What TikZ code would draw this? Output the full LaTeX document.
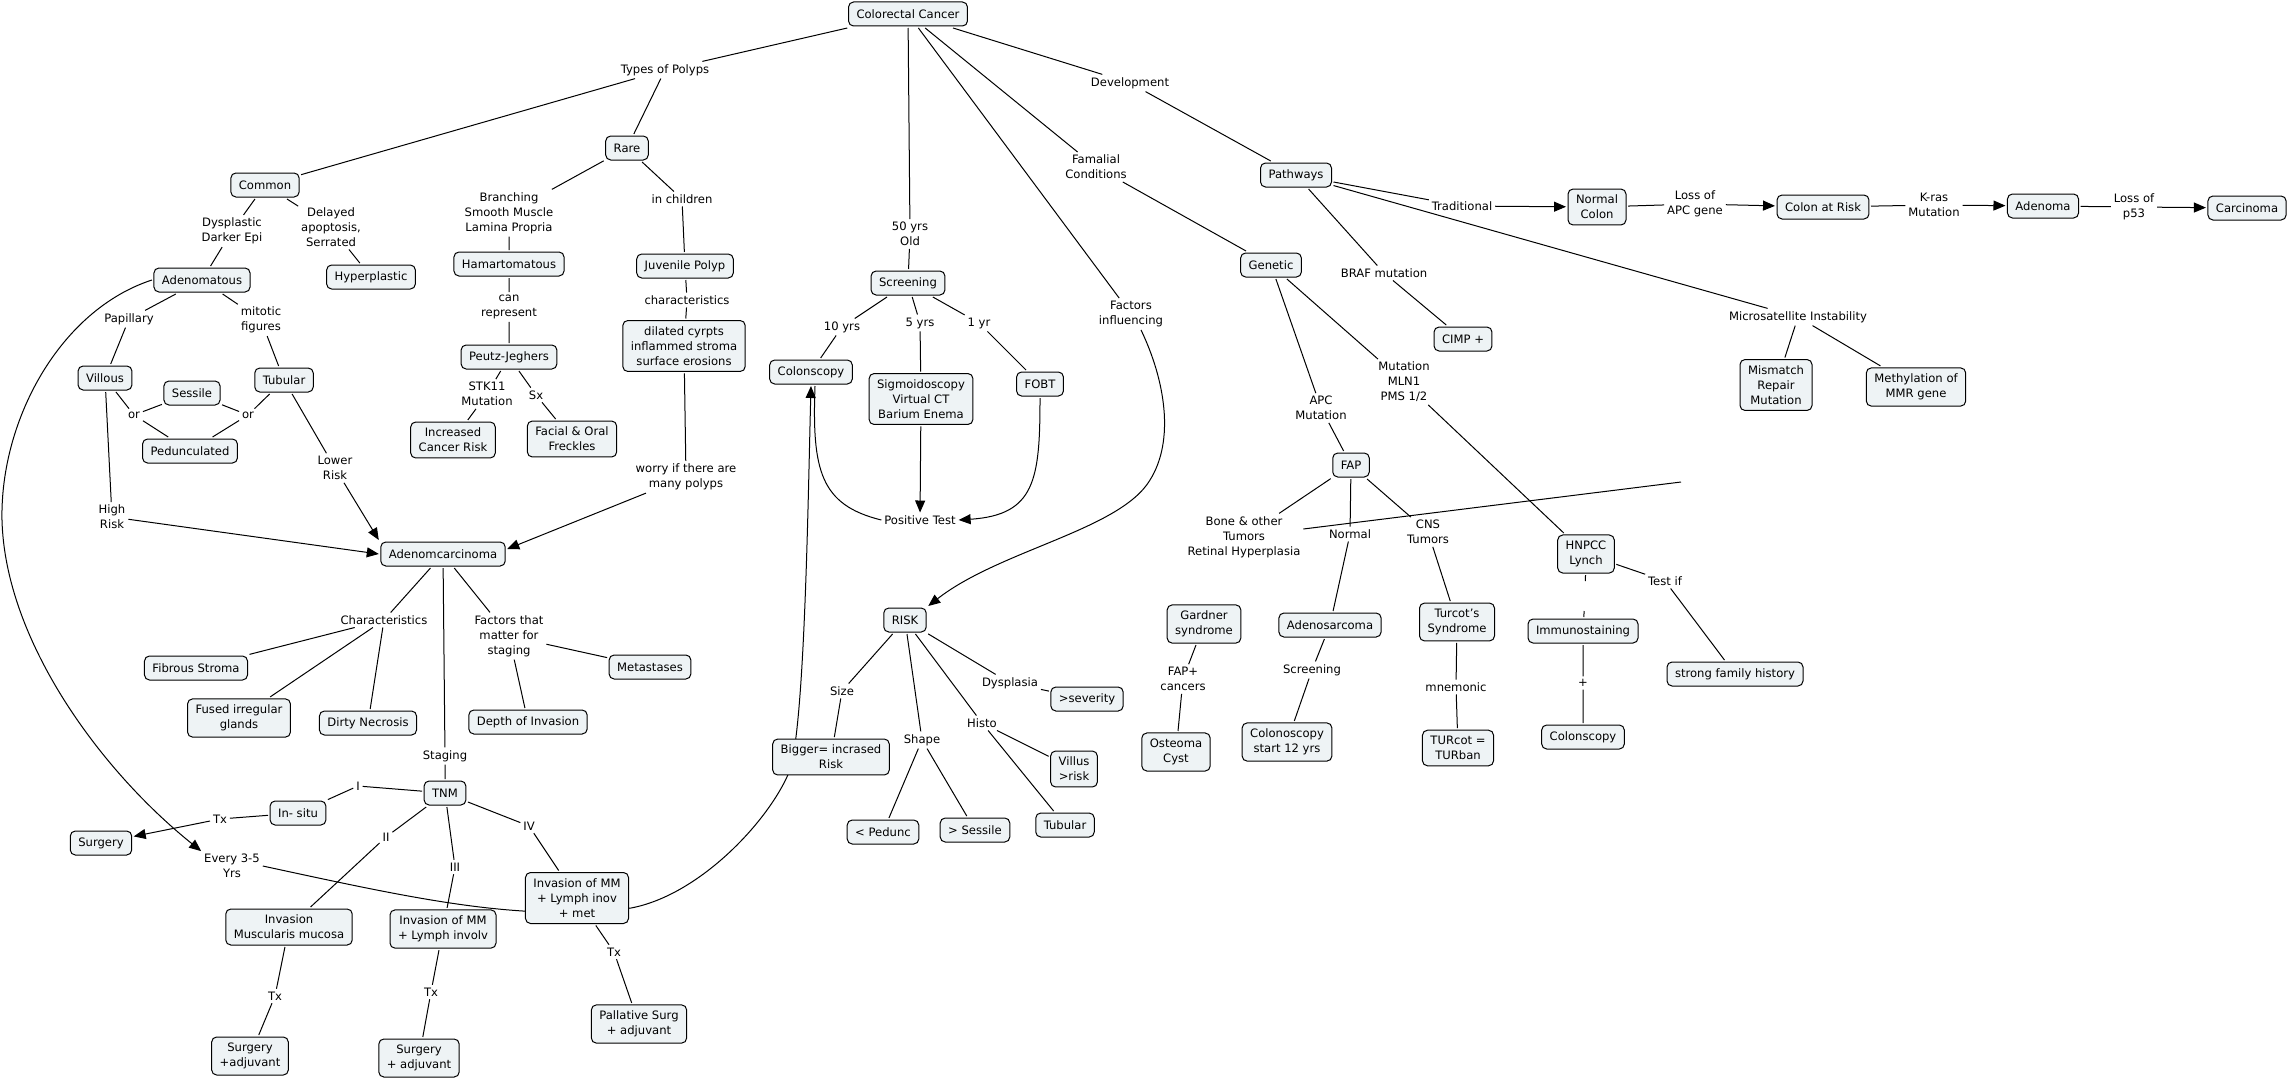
\documentclass[tikz,border=0pt]{standalone}
\usepackage{fontspec}
\setmainfont{DejaVu Sans}
\usetikzlibrary{arrows.meta,backgrounds}
\definecolor{cfill}{HTML}{EEF3F5}

\begin{document}
\begin{tikzpicture}[x=1pt,y=-1pt,line width=1pt,
  every node/.style={font=\fontsize{11.6}{15}\selectfont,align=center},
  concept/.style={draw,fill=cfill,rounded corners=5pt,inner xsep=8pt,inner ysep=6pt,minimum height=24pt,outer sep=2pt},
  phrase/.style={fill=white,inner sep=2pt,outer sep=1pt},
  arr/.style={-{Triangle[length=12pt,width=10pt]}}]
\useasboundingbox (0,0) rectangle (2290,1081);

% polyps
\node[concept] (cc) at (908,14) {Colorectal Cancer};
\node[phrase] (tpoly) at (665,70) {Types of Polyps};
\node[concept] (common) at (265,185) {Common};
\node[concept] (rare) at (627,148) {Rare};
\node[phrase] (dysp) at (232,231) {Dysplastic\\Darker Epi};
\node[phrase] (delay) at (331,227) {Delayed\\apoptosis,\\Serrated};
\node[concept] (hyper) at (371,277) {Hyperplastic};
\node[concept] (adenom) at (202,280) {Adenomatous};
\node[phrase] (papil) at (129,319) {Papillary};
\node[phrase] (mitot) at (261,320) {mitotic\\figures};
\node[concept] (villous) at (105,378) {Villous};
\node[concept] (sessile) at (192,393) {Sessile};
\node[concept] (tubular) at (284,380) {Tubular};
\node[phrase] (orl) at (134,415) {or};
\node[phrase] (orr) at (248,415) {or};
\node[concept] (pedunc) at (190,451) {Pedunculated};
\node[phrase] (lowrisk) at (335,468) {Lower\\Risk};
\node[phrase] (highrisk) at (112,517) {High\\Risk};
\node[phrase] (branch) at (509,213) {Branching\\Smooth Muscle\\Lamina Propria};
\node[concept] (hamart) at (509,264) {Hamartomatous};
\node[phrase] (canrep) at (509,307) {can\\represent};
\node[concept] (peutz) at (509,357) {Peutz-Jeghers};
\node[phrase] (stk) at (487,394) {STK11\\Mutation};
\node[phrase] (sx) at (536,395) {Sx};
\node[concept] (incrisk) at (453,440) {Increased\\Cancer Risk};
\node[concept] (freckles) at (572,439) {Facial \& Oral\\Freckles};
\node[phrase] (inchild) at (682,199) {in children};
\node[concept] (juvpol) at (685,266) {Juvenile Polyp};
\node[phrase] (charjuv) at (687,300) {characteristics};
\node[concept] (dilated) at (684,346) {dilated cyrpts\\inflammed stroma\\surface erosions};
\node[phrase] (worry) at (686,477) {worry if there are\\many polyps};

% adenocarcinoma and staging
\node[concept] (adcarc) at (443,554) {Adenomcarcinoma};
\node[phrase] (charac) at (384,620) {Characteristics};
\node[phrase] (factors) at (509,636) {Factors that\\matter for\\staging};
\node[concept] (fibrous) at (196,668) {Fibrous Stroma};
\node[concept] (metast) at (650,667) {Metastases};
\node[concept] (fused) at (239,718) {Fused irregular\\glands};
\node[concept] (dirty) at (368,723) {Dirty Necrosis};
\node[concept] (depth) at (528,722) {Depth of Invasion};
\node[phrase] (staging) at (445,756) {Staging};
\node[concept] (tnm) at (445,793) {TNM};
\node[phrase] (stI) at (358,786) {I};
\node[concept] (insitu) at (298,813) {In- situ};
\node[phrase] (txs) at (220,819) {Tx};
\node[concept] (surgery) at (101,843) {Surgery};
\node[phrase] (every35) at (232,866) {Every 3-5\\Yrs};
\node[phrase] (stII) at (386,837) {II};
\node[phrase] (stIII) at (455,867) {III};
\node[phrase] (stIV) at (529,826) {IV};
\node[concept] (invmm) at (289,927) {Invasion\\Muscularis mucosa};
\node[concept] (invlym) at (443,929) {Invasion of MM\\+ Lymph involv};
\node[concept] (invmet) at (577,898) {Invasion of MM\\+ Lymph inov\\+ met};
\node[phrase] (txII) at (275,996) {Tx};
\node[phrase] (txIII) at (431,992) {Tx};
\node[phrase] (txIV) at (614,952) {Tx};
\node[concept] (surgadj) at (250,1056) {Surgery\\+adjuvant};
\node[concept] (surgadjb) at (419,1058) {Surgery\\+ adjuvant};
\node[concept] (pallat) at (639,1024) {Pallative Surg\\+ adjuvant};

% screening and risk
\node[phrase] (fifty) at (910,234) {50 yrs\\Old};
\node[concept] (screen) at (908,283) {Screening};
\node[phrase] (tenyr) at (842,327) {10 yrs};
\node[phrase] (fiveyr) at (920,323) {5 yrs};
\node[phrase] (oneyr) at (979,323) {1 yr};
\node[concept] (colon1) at (811,372) {Colonscopy};
\node[concept] (sigmo) at (921,399) {Sigmoidoscopy\\Virtual CT\\Barium Enema};
\node[concept] (fobt) at (1040,384) {FOBT};
\node[phrase] (postest) at (920,520) {Positive Test};
\node[phrase] (factinf) at (1131,314) {Factors\\influencing};
\node[concept] (risk) at (905,620) {RISK};
\node[phrase] (size) at (842,691) {Size};
\node[concept] (bigger) at (831,757) {Bigger= incrased\\Risk};
\node[phrase] (shape) at (922,740) {Shape};
\node[phrase] (histo) at (982,723) {Histo};
\node[phrase] (dysplas) at (1010,683) {Dysplasia};
\node[concept] (severity) at (1087,699) {>severity};
\node[concept] (villus) at (1074,769) {Villus\\>risk};
\node[concept] (tubular2) at (1065,825) {Tubular};
\node[concept] (lpedunc) at (883,832) {< Pedunc};
\node[concept] (gsessile) at (975,830) {> Sessile};

% genetics and development
\node[phrase] (famal) at (1096,167) {Famalial\\Conditions};
\node[phrase] (develop) at (1130,83) {Development};
\node[concept] (pathways) at (1296,175) {Pathways};
\node[concept] (genetic) at (1271,265) {Genetic};
\node[phrase] (braf) at (1384,273) {BRAF mutation};
\node[concept] (cimp) at (1463,339) {CIMP +};
\node[phrase] (apcmut) at (1321,408) {APC\\Mutation};
\node[phrase] (mlnmut) at (1404,382) {Mutation\\MLN1\\PMS 1/2};
\node[concept] (fap) at (1351,465) {FAP};
\node[phrase] (bone) at (1244,537) {Bone \& other\\Tumors\\Retinal Hyperplasia};
\node[phrase] (normal) at (1350,534) {Normal};
\node[phrase] (cns) at (1428,532) {CNS\\Tumors};
\node[concept] (hnpcc) at (1586,554) {HNPCC\\Lynch};
\node[phrase] (testif) at (1665,581) {Test if};
\node[concept] (gardner) at (1204,624) {Gardner\\syndrome};
\node[phrase] (fapcanc) at (1183,679) {FAP+\\cancers};
\node[concept] (osteoma) at (1176,752) {Osteoma\\Cyst};
\node[concept] (adsarc) at (1330,625) {Adenosarcoma};
\node[phrase] (screen2) at (1312,670) {Screening};
\node[concept] (colon12) at (1287,742) {Colonoscopy\\start 12 yrs};
\node[concept] (turcot) at (1457,622) {Turcot's\\Syndrome};
\node[phrase] (mnem) at (1456,687) {mnemonic};
\node[concept] (turban) at (1458,748) {TURcot =\\TURban};
\node[phrase,minimum height=28pt] (blank) at (1585,596) {};
\node[concept] (immuno) at (1583,631) {Immunostaining};
\node[phrase] (plus) at (1583,683) {+};
\node[concept] (colon2) at (1583,737) {Colonscopy};
\node[concept] (family) at (1735,674) {strong family history};
\node[phrase] (tradit) at (1462,206) {Traditional};
\node[concept] (normcol) at (1597,207) {Normal\\Colon};
\node[phrase] (lossapc) at (1695,204) {Loss of\\APC gene};
\node[concept] (colrisk) at (1823,207) {Colon at Risk};
\node[phrase] (kras) at (1934,205) {K-ras\\Mutation};
\node[concept] (adenoma) at (2043,206) {Adenoma};
\node[phrase] (lossp) at (2134,207) {Loss of\\p53};
\node[concept] (carcin) at (2247,208) {Carcinoma};
\node[phrase] (micro) at (1798,317) {Microsatellite Instability};
\node[concept] (mismatch) at (1776,385) {Mismatch\\Repair\\Mutation};
\node[concept] (methyl) at (1916,387) {Methylation of\\MMR gene};
\coordinate (loose) at (1681,482);

% links
\draw (cc) -- (tpoly) (tpoly) -- (common) (tpoly) -- (rare);
\draw (common) -- (dysp) (dysp) -- (adenom) (common) -- (delay) (delay) -- (hyper);
\draw (adenom) -- (papil) (papil) -- (villous) (adenom) -- (mitot) (mitot) -- (tubular);
\draw (villous) -- (orl) (orl) -- (sessile) (orl) -- (pedunc);
\draw (tubular) -- (orr) (orr) -- (sessile) (orr) -- (pedunc);
\draw (tubular) -- (lowrisk) (villous) -- (highrisk);
\draw[arr] (lowrisk) -- (adcarc.north west);
\draw[arr] (highrisk) -- (adcarc.west);
\draw (rare) -- (branch) (branch) -- (hamart) (hamart) -- (canrep) (canrep) -- (peutz);
\draw (peutz) -- (stk) (stk) -- (incrisk) (peutz) -- (sx) (sx) -- (freckles);
\draw (rare) -- (inchild) (inchild) -- (juvpol) (juvpol) -- (charjuv) (charjuv) -- (dilated) (dilated) -- (worry);
\draw[arr] (worry) -- ([yshift=5pt]adcarc.east);

\draw (adcarc) -- (charac) (charac) -- (fibrous) (charac) -- (fused) (charac) -- (dirty);
\draw (adcarc) -- (factors) (factors) -- (metast) (factors) -- (depth);
\draw (adcarc) -- (staging) (staging) -- (tnm);
\draw (tnm) -- (stI) (stI) -- (insitu) (insitu) -- (txs);
\draw[arr] (txs) -- (surgery);
\draw (tnm) -- (stII) (stII) -- (invmm) (tnm) -- (stIII) (stIII) -- (invlym) (tnm) -- (stIV) (stIV) -- (invmet);
\draw (invmm) -- (txII) (txII) -- (surgadj) (invlym) -- (txIII) (txIII) -- (surgadjb) (invmet) -- (txIV) (txIV) -- (pallat);
\draw[arr] (adenom.west) .. controls (60,310) and (0,420) .. (2,520)
  .. controls (5,640) and (100,770) .. (every35.north west);
% runs behind the boxes
\begin{scope}[on background layer]
\draw[arr,line width=1pt,black] (every35.east) .. controls (420,900) and (520,922) .. (631,908)
  .. controls (700,895) and (770,820) .. (790,770)
  .. controls (805,720) and (808,500) .. (colon1.south);
\end{scope}

\draw (cc) -- (fifty) (fifty) -- (screen);
\draw (screen) -- (tenyr) (tenyr) -- (colon1) (screen) -- (fiveyr) (fiveyr) -- (sigmo) (screen) -- (oneyr) (oneyr) -- (fobt);
\draw[arr] (sigmo) -- (postest);
\draw (postest.west) .. controls (820,505) and (812,470) .. ([xshift=4pt]colon1.south);
\draw[arr] (fobt.south) .. controls (1040,480) and (1035,515) .. (postest.east);
\draw (cc) -- (factinf);
\draw[arr] ([xshift=10pt]factinf.south) .. controls (1165,380) and (1175,440) .. (1150,480)
  .. controls (1120,530) and (1000,550) .. (risk.north east);
\draw (risk) -- (size) (size) -- (bigger);
\draw (risk) -- (shape) (shape) -- (lpedunc) (shape) -- (gsessile);
\draw (risk) -- (histo) (histo) -- (villus) (histo) -- (tubular2);
\draw (risk) -- (dysplas) (dysplas) -- (severity);

\draw (cc) -- (famal) (famal) -- (genetic) (cc) -- (develop) (develop) -- (pathways);
\draw (genetic) -- (apcmut) (apcmut) -- (fap) (genetic) -- (mlnmut) (mlnmut) -- (hnpcc);
\draw (fap) -- (bone) ([yshift=8pt]bone.east) -- (loose);
\draw (fap) -- (normal) (normal) -- (adsarc) (adsarc) -- (screen2) (screen2) -- (colon12);
\draw (fap) -- (cns) (cns) -- (turcot) (turcot) -- (mnem) (mnem) -- (turban);
\draw (gardner) -- (fapcanc) (fapcanc) -- (osteoma);
\draw (hnpcc) -- (testif) (testif) -- (family);
\draw (hnpcc) -- (blank) (blank) -- (immuno) (immuno) -- (plus) (plus) -- (colon2);
\draw (pathways) -- (braf) (braf) -- (cimp);
\draw (pathways) -- (micro) (micro) -- (mismatch) (micro) -- (methyl);
\draw (pathways) -- (tradit);
\draw[arr] (tradit) -- (normcol);
\draw (normcol) -- (lossapc);
\draw[arr] (lossapc) -- (colrisk);
\draw (colrisk) -- (kras);
\draw[arr] (kras) -- (adenoma);
\draw (adenoma) -- (lossp);
\draw[arr] (lossp) -- (carcin);
\end{tikzpicture}
\end{document}
